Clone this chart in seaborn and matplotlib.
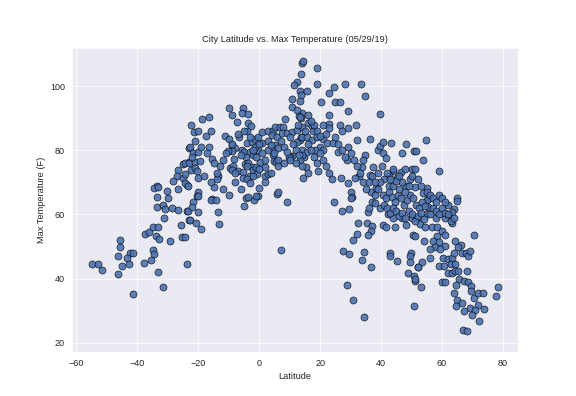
import matplotlib
matplotlib.use("Agg")
import matplotlib.pyplot as plt
import seaborn as sns
import pandas as pd

# city data (lat in degrees, max temp in F)
south_far_lat = [-54.8, -53, -51.5, -45.6, -45.6, -46.2, -45.2, -46.2, -41.3, -42.3, -41.3, -43.3, -42.6,
                 -37.7, -37.4, -36.1, -34.8, -33.1, -33.8, -32.8, -34.8, -34.4, -35.4, -33.1, -31.5, -29.2,
                 -25.6, -25.2, -23.6, -23.0]
south_far_temp = [44.7, 44.7, 42.8, 52, 50, 46.9, 43.8, 41.3, 35.1, 48, 48, 46.5, 44.7,
                  45, 54, 54.6, 56, 56, 53.4, 52.2, 49, 47.8, 45.9, 42.2, 37.3, 51.8,
                  56.7, 53, 44.7, 58.3]

south_mid_lat = [-33.4, -33.4, -31.5, -29.8, -30.8, -28.5, -26.6, -23.6, -31.1,
                 -33.4, -34.4, -33.1, -30.2, -26.6, -23.6, -24.9, -26.6, -26.9, -28.2, -24.9, -23.0, -23.0, -22.3,
                 -22.3, -21.3, -20.0, -18.7, -16.4, -17.4, -15.7, -16.4, -22.6, -21.6, -20.0, -24.3, -23.0,
                 -21.0, -19.3, -21.0, -20.3, -20.0, -24.3, -24.3, -23.3, -20.0, -20.3, -15.4, -13.4, -13.8,
                 -15.4, -14.8, -23.3, -21.6, -22.0, -20.0, -22.6, -20.7, -19.0, -24.3, -20.0, -15.7, -14.1,
                 -13.4, -13.1, -4.3, -4.9, -1.6, -0.3, 5.9, 9.2, 7.2]
south_mid_temp = [65.4, 62.3, 62.9, 65, 61.7, 62, 61.4, 61, 58.9,
                  68.8, 68.1, 68.4, 67.2, 67.8, 69.1, 75.6, 73.7, 71.9, 70.3, 71.2, 76.2, 80.8, 73.7,
                  87.9, 85.7, 86, 89.8, 90.4, 84.5, 86, 81.1, 81.1, 79, 79.6, 75.9, 75.9,
                  76.2, 76.5, 74.6, 73.4, 71.5, 72.5, 69.7, 68.8, 66.9, 65.7, 64.8, 71.9, 70.9,
                  77.4, 68.5, 61, 63.8, 62.3, 60.7, 58.3, 57.3, 55.5, 53, 65.7, 64.4, 64.4,
                  60.7, 57, 65, 62.6, 64.4, 65.7, 66.3, 63.8, 49]

equator_lat = [-11.1, -9.8, -8.9, -7.2, -5.2, -5.6, -3.6, -3.6, -2.6, -3.9, -6.6, -9.8, -8.9, -7.9, -8.9,
               -10.2, -5.6, -4.9, -3.9, -2.3, -1.3, -0.3, 1.0, 3.0, 4.6, 5.2, 6.9, 7.9, 8.5, 4.3, 5.9, 7.5,
               9.2, 10.8, 12.5, 14.1, 13.8, 14.1, 12.8, 13.4, 12.5, 14.1, 14.8, 10.8, 10.2, 5.2, 4.6, 3.0,
               6.2, 4.6, 4.9, -0.3, 1.0, -1.3, -3.0, -2.0, -4.3, -6.0, -8.2, -9.5, -8.5, -6.9, -8.9, -7.9,
               -5.2, -4.6, -3.6, -2.3, -2.0, -1.0, 0.3, -0.7, 2.0, 3.0, -5.2, -3.0, -3.9, -3.0, 2.0, 6.2,
               -1.0, 0.0, -3.6, 5.6, 9.8, 14.1, 13.8, 12.5, 11.5, 13.4, 13.8, 10.8, 10.8, 12.5, 13.1, 13.8]
equator_temp = [84.5, 93.1, 91, 88.8, 93.1, 91.6, 91.3, 88.5, 87.6, 86, 84.2, 83.6, 81.7, 80.8, 79.9,
                79.9, 80.2, 79.3, 82.3, 82.7, 83.6, 84.2, 85.7, 86, 86, 87.3, 87.3, 87.3, 89.8, 84.8, 84.2, 85.4,
                85.4, 85.7, 86.4, 87.3, 90.1, 91.6, 87.9, 83.3, 82.7, 80.2, 78, 78.3, 78, 81.7, 80.2, 80.2,
                80.8, 78.6, 76.8, 80.2, 82.3, 81.1, 79.3, 78.6, 78, 78.6, 77.4, 74.6, 75.2, 73.4, 73.7, 72.8,
                73.1, 75.6, 75.9, 74.9, 73.7, 74.9, 76.2, 72.5, 71.9, 72.5, 71.5, 71.9, 70.9, 69.7, 74.9, 66.9,
                65.7, 68.1, 65.4, 76.2, 78, 107.3, 103.6, 101.2, 100.2, 98.4, 97.2, 95.9, 93.5, 92.5, 90.7, 84.2]

north_mid_lat = [14.4, 19.0, 19.0, 24.6, 23.0, 28.2, 33.4, 34.8, 15.7, 13.4, 20.3, 24.9, 26.6, 23.0, 29.2,
                 39.7, 23.0, 26.6, 27.2, 29.2, 31.8, 13.4, 16.1, 17.4, 17.7, 14.1, 15.7, 17.4, 19.0, 21.0,
                 22.3, 24.3, 20.0, 18.4, 21.0, 15.7, 14.1, 13.4, 15.4, 14.4, 19.3, 25.9, 28.9, 32.1, 36.4,
                 34.8, 33.8, 34.1, 37.4, 36.4, 32.8, 31.5, 26.9, 29.2, 30.2, 30.5, 36.7, 38.4, 39.0, 39.7,
                 40.7, 43.3, 40.7, 41.6, 40.3, 48.2, 50.8, 46.9, 50.2, 46.6, 43.9, 42.6, 45.2, 41.0, 42.6,
                 49.5, 48.2, 51.1]
north_mid_temp = [107.7, 105.5, 100.5, 99.6, 97.8, 100.5, 100.5, 96.9, 98.4, 95.3, 95, 95, 95, 91, 92.2,
                  91.3, 88.2, 87.9, 86, 87, 87.9, 90.4, 88.5, 87.6, 86, 84.2, 84.2, 83.3, 84.2, 83.6,
                  82.3, 82.3, 81.1, 80.2, 80.2, 79.3, 78.6, 77.1, 74.9, 71.5, 73.4, 79.3, 77.1, 83.3, 83.6,
                  78.6, 74.9, 77.1, 74.9, 72.2, 71.9, 71.5, 71.5, 69.7, 66.9, 65.4, 66.9, 68.1, 80.2, 81.4,
                  82.7, 82.3, 79, 77.7, 75.2, 82, 79.9, 79, 74.3, 73.1, 73.4, 71.9, 71.5, 70.9, 68.8,
                  70.9, 69, 68.5]

north_low_lat = [24.6, 27.2, 29.5, 30.2, 35.7, 32.5, 35.4, 37.0, 36.7, 35.7, 32.1, 30.8, 27.5, 29.5, 34.4,
                 33.8, 36.7, 28.9, 30.8, 34.4, 40.7, 41.6, 44.6, 48.2, 50.5, 50.8, 43.0, 43.0, 45.2, 49.8,
                 49.5, 49.5, 52.1, 48.9, 50.8, 51.1, 39.7, 42.3, 43.9, 46.9, 50.2]
north_low_temp = [63.8, 61, 61.7, 65, 60.7, 57.3, 57.3, 56.4, 54.9, 53.6, 54, 52.1, 48.7, 47.8, 48.4,
                  45.9, 43.5, 37.9, 33.3, 28, 56.7, 56, 56, 56.7, 53.6, 31.4, 48.1, 46.9, 45.6, 48.1,
                  46.9, 45.3, 43.5, 41.9, 40.7, 39.4, 62, 60.1, 58.9, 58.9, 58.9]

north_far_lat = [54.8, 51.5, 53.8, 51.1, 59.0, 55.1, 53.8, 55.4, 64.9, 64.9, 63.9, 63.3, 62.0, 61.0, 63.3,
                 55.1, 55.4, 55.1, 58.0, 51.8, 52.8, 54.4, 56.7, 58.4, 60.0, 61.0, 58.4, 57.0, 59.0, 61.0,
                 57.7, 59.3, 56.1, 56.1, 54.1, 51.1, 53.4, 52.1, 51.1, 53.1, 60.3, 62.0, 63.3, 63.9, 66.2,
                 64.3, 65.2, 66.6, 67.9, 68.5, 69.2, 70.5, 59.0, 60.7, 63.0, 64.3, 62.0, 63.3, 64.3, 65.2,
                 68.2, 65.6, 67.2, 68.5, 60.0, 61.0, 64.6, 69.5, 69.5, 70.5, 71.8, 73.4, 63.9, 64.9, 66.6,
                 71.8, 69.2, 70.8, 73.8, 64.6, 67.2, 69.8, 72.1, 77.7, 78.4, 66.9, 68.2]
north_far_temp = [83.3, 79.9, 77.1, 74, 73.4, 68.1, 66.6, 64.8, 65.1, 64.1, 61.7, 60.7, 59.5, 58.9, 57.3,
                  64.4, 62.3, 60.1, 58.9, 58.9, 57, 56, 56, 56, 54.9, 53.6, 53.3, 51.8, 51.5, 50.3,
                  49.9, 49.3, 49.3, 46.5, 51.8, 53.3, 45.3, 43.5, 40, 37.3, 46.5, 46.2, 46.5, 48.1, 50.6,
                  51.8, 49.9, 48.1, 48.1, 46.9, 48.7, 53.6, 43.8, 43.8, 44.4, 44.7, 41.6, 41.6, 42.5, 42.5,
                  42.5, 40, 39.4, 39.1, 39.1, 38.8, 37.9, 37.6, 36, 33.9, 35.4, 35.4, 35.4, 33.3, 32.3,
                  31.7, 30.8, 30.2, 30.5, 31.4, 29.9, 28.6, 26.9, 34.5, 37.3, 24, 23.7]

# extra points filling the dense clusters
dense_lat = [40.5, 41.5, 42.5, 43.5, 44.5, 45.5, 46.5, 47.5, 48.5, 49.5, 50.5, 51.5, 52.5, 53.5, 54.5,
             41, 42, 43, 44, 45, 46, 47, 48, 49, 50, 51, 52, 53, 54, 56, 57, 58, 59, 60, 61, 62,
             46, 47, 48, 49, 44, 45, 43, 38, 39, 37, 36, 38, 39.5, 42, 44, 46, 48, 50, 52, 53, 55,
             56, 57, 58, 59, 60, 61, 62, 63, 64]
dense_temp = [66, 65, 67, 65.5, 64, 66, 65, 63, 64.5, 66, 65, 63, 62, 64, 62.5,
              63, 62, 60.5, 62, 61, 59.5, 60.5, 59, 61, 60, 58, 59.5, 60.5, 58.5, 60, 62, 61, 60, 62, 60.5, 63,
              68, 70, 67, 69, 69, 70.5, 71, 66, 68, 64, 62, 63.5, 70, 73, 74, 72, 74, 72, 71, 69, 67,
              66, 65, 64, 66, 65, 64, 60, 58, 59]

core_lat = [-2, -1, 0, 1, 2, 3, 4, 5, 6, 7, 8, 9, 10, 11, 12, 13, 15, 16, 17, 18, 19, 20, 21, 22, 23, 24,
            18, 17, 16, 19, 20, 21, 22, 23, 25, 26, 27, 28, 29, 30, 31, 32, 33, 34, 35, 36, 37, 38, 39,
            -3, -5, -7, -9, -11, -12, -13, -14, -15, -17, -19, -21, -22, -18, -16, -12, -10, -8, -6, -4,
            -2, 0, 2, 4, 6, 8, 10, 12, 14, 16]
core_temp = [80, 78, 82, 79, 77, 83, 81.5, 79, 77, 83, 81, 79.5, 84, 82, 80, 78.5, 86, 82, 80, 78, 76, 79,
             77, 75, 73, 71, 88, 89, 91, 86, 84.5, 88, 85, 87, 84, 82, 80, 78, 81, 79, 77, 75, 73, 70, 68,
             70, 72, 70, 73, 84, 86, 85, 82, 79, 77, 75, 73, 76, 79, 81, 83, 78, 72, 70, 68, 66, 70, 68, 75,
             72, 74, 70, 73, 75, 76, 77, 76, 75, 73]

lat = (south_far_lat + south_mid_lat + equator_lat + north_mid_lat + north_low_lat
       + north_far_lat + dense_lat + core_lat)
temp = (south_far_temp + south_mid_temp + equator_temp + north_mid_temp + north_low_temp
        + north_far_temp + dense_temp + core_temp)

df = pd.DataFrame({"Latitude": lat, "Max Temp": temp})

sns.set_style("darkgrid")
plt.rcParams["font.family"] = ["Liberation Sans", "DejaVu Sans"]

fig, ax = plt.subplots(figsize=(8, 5.5), dpi=72)
sns.scatterplot(x="Latitude", y="Max Temp", data=df, ax=ax, color="#4c72b0",
                edgecolor="black", linewidth=0.6, s=50, alpha=0.9)
ax.set_ylim(17, 112)
ax.set_title("City Latitude vs. Max Temperature (05/29/19)", fontsize=9.3)
ax.set_xlabel("Latitude", fontsize=9.3)
ax.set_ylabel("Max Temperature (F)", fontsize=9.3)
ax.tick_params(labelsize=9)
fig.subplots_adjust(left=0.125, right=0.9, top=0.88, bottom=0.11)
plt.savefig("out.png", dpi=72)
